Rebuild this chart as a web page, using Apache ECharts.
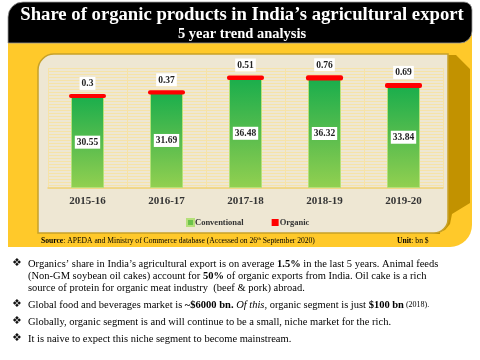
<!DOCTYPE html>
<html><head><meta charset="utf-8">
<script src="https://cdn.jsdelivr.net/npm/echarts@6/dist/echarts.min.js"></script>
<style>html,body{margin:0;padding:0;background:#fff;}#c{width:480px;height:360px;}</style>
</head><body><div id="c"></div>
<script>
var categories = ['2015-16', '2016-17', '2017-18', '2018-19', '2019-20'];
var conventional = [30.55, 31.69, 36.48, 36.32, 33.84];
var organic = [0.3, 0.37, 0.51, 0.76, 0.69];
var seriesNames = ['Conventional', 'Organic'];

var SERIF = '"Liberation Serif", "DejaVu Serif", serif';
var chart = echarts.init(document.getElementById('c'));

var bulletLines = [
  {y: 264, t: '{n|Organics\u2019 share in India\u2019s agricultural export is on average }{b|1.5%}{n| in the last 5 years. Animal feeds}', bullet: true},
  {y: 276, t: '{n|(Non-GM soybean oil cakes) account for }{b|50%}{n| of organic exports from India. Oil cake is a rich}'},
  {y: 288, t: '{n|source of protein for organic meat industry  (beef & pork) abroad.}'},
  {y: 305, t: '{n|Global food and beverages market is }{b|~$6000 bn.}{i| Of this}{n|, organic segment is just }{b|$100 bn}{s| (2018).}', bullet: true},
  {y: 322, t: '{n|Globally, organic segment is and will continue to be a small, niche market for the rich.}', bullet: true},
  {y: 339, t: '{n|It is naive to expect this niche segment to become mainstream.}', bullet: true}
];
var rich = {
  n: {fontFamily: SERIF, fontSize: 10.5, color: '#2b2b2b'},
  b: {fontFamily: SERIF, fontSize: 10.5, fontWeight: 'bold', color: '#111'},
  i: {fontFamily: SERIF, fontSize: 10.5, fontStyle: 'italic', color: '#2b2b2b'},
  s: {fontFamily: SERIF, fontSize: 8, color: '#2b2b2b'}
};
var graphics = [
  {type: 'rect', z: -5, shape: {x: 8, y: 28, width: 464, height: 219, r: [0, 0, 22, 0]}, style: {fill: '#FFC92A'}},
  {type: 'rect', z: -4, shape: {x: 8, y: 2, width: 464, height: 41, r: [15, 8, 12, 0]}, style: {fill: '#000', stroke: '#999', lineWidth: 0.8}},
  {type: 'polygon', z: -4, shape: {points: [[440, 55], [456, 55], [470, 69], [470, 203], [452, 214], [450, 224], [445, 230], [437, 233], [428, 234], [440, 234]]}, style: {fill: '#C29200'}},
  {type: 'rect', z: -3, shape: {x: 38, y: 54, width: 410, height: 179, r: [16, 0, 14, 0]}, style: {fill: '#EEE7D3', stroke: '#C7A128', lineWidth: 1.5}},
  {type: 'text', z: 10, style: {x: 242, y: 15, text: 'Share of organic products in India\u2019s agricultural export', fill: '#fff', font: 'bold 18.7px ' + SERIF, textAlign: 'center', textVerticalAlign: 'middle'}},
  {type: 'text', z: 10, style: {x: 242, y: 34, text: '5 year trend analysis', fill: '#fff', font: 'bold 14.5px ' + SERIF, textAlign: 'center', textVerticalAlign: 'middle'}},
  {type: 'text', z: 10, style: {x: 41, y: 241, text: '{b|Source}{n|: APEDA and Ministry of Commerce database (Accessed on 26}{sup|th}{n| September 2020)}', textVerticalAlign: 'middle',
    rich: {b: {fontFamily: SERIF, fontSize: 7.6, fontWeight: 'bold', color: '#222'}, n: {fontFamily: SERIF, fontSize: 7.6, color: '#222'}, sup: {fontFamily: SERIF, fontSize: 5, color: '#222', verticalAlign: 'top', padding: [0, 0, 4, 0]}}}},
  {type: 'text', z: 10, style: {x: 397, y: 241, text: '{b|Unit}{n|: bn $}', textVerticalAlign: 'middle',
    rich: {b: {fontFamily: SERIF, fontSize: 7.6, fontWeight: 'bold', color: '#222'}, n: {fontFamily: SERIF, fontSize: 7.6, color: '#222'}}}}
];
bulletLines.forEach(function (l) {
  if (l.bullet) {
    graphics.push({type: 'text', z: 10, style: {x: 17, y: l.y - 1, text: '\u2756', fill: '#111', font: '11px "DejaVu Sans"', textAlign: 'center', textVerticalAlign: 'middle'}});
  }
  graphics.push({type: 'text', z: 10, style: {x: 28, y: l.y, text: l.t, rich: rich, textVerticalAlign: 'middle'}});
});

var labelStyle = {fontFamily: SERIF, fontSize: 9.5, fontWeight: 'bold', color: '#222', backgroundColor: '#fff', padding: [2, 2, 1, 2]};
var LABEL_FONT = 'bold 9.5px ' + SERIF;

var capData = categories.map(function (c, i) { return [i, conventional[i], organic[i]]; });

chart.setOption({
  animation: false,
  graphic: graphics,
  grid: {left: 48, right: 37, top: 68, bottom: 172, containLabel: false},
  legend: {
    top: 213, left: 181, itemWidth: 7, itemHeight: 7, itemGap: 28, icon: 'rect',
    textStyle: {fontFamily: SERIF, fontSize: 8.5, fontWeight: 'bold', color: '#333', padding: [0, 0, 0, -4]},
    data: [{name: seriesNames[0], itemStyle: {color: '#6CC24A'}}, {name: seriesNames[1], itemStyle: {color: '#FF0000'}}]
  },
  xAxis: {
    type: 'category', data: categories,
    axisLine: {lineStyle: {color: '#EFD27A', width: 1.5}},
    axisTick: {show: false},
    axisLabel: {fontFamily: SERIF, fontSize: 11, fontWeight: 'bold', color: '#333', margin: 8},
    splitLine: {show: true, lineStyle: {color: '#F6E3A8', width: 1}}
  },
  yAxis: {
    type: 'value', min: 0, max: 40, interval: 1,
    axisLine: {show: false}, axisTick: {show: false}, axisLabel: {show: false},
    splitLine: {lineStyle: {color: '#F6E3A8', width: 1}}
  },
  series: [
    {
      name: seriesNames[0], type: 'bar', stack: 'total', barWidth: 33, data: conventional,
      itemStyle: {
        color: new echarts.graphic.LinearGradient(0, 0, 0, 1, [{offset: 0, color: '#1AAE4C'}, {offset: 0.55, color: '#5DBE4E'}, {offset: 1, color: '#92D050'}]),
        borderColor: '#B5E07A', borderWidth: 1
      },
      label: Object.assign({show: true, position: 'inside'}, labelStyle)
    },
    {
      name: seriesNames[1], type: 'custom', data: capData, z: 3,
      encode: {x: 0, y: [1, 2]},
      renderItem: function (params, api) {
        var top = api.coord([api.value(0), api.value(1) + api.value(2)]);
        var base = api.coord([api.value(0), api.value(1)]);
        var h = Math.max(4, base[1] - top[1] + 3);
        var cy = (top[1] + base[1]) / 2;
        return {
          type: 'group',
          children: [
            {type: 'rect', shape: {x: top[0] - 18.5, y: cy - h / 2, width: 37, height: h, r: 2}, style: {fill: '#FF0000'}},
            {type: 'text', style: {text: String(api.value(2)), x: top[0], y: cy - h / 2 - 4, align: 'center', verticalAlign: 'bottom', font: LABEL_FONT, fill: '#222', backgroundColor: '#fff', padding: [2, 2, 1, 2]}}
          ]
        };
      }
    }
  ]
});
</script></body></html>
